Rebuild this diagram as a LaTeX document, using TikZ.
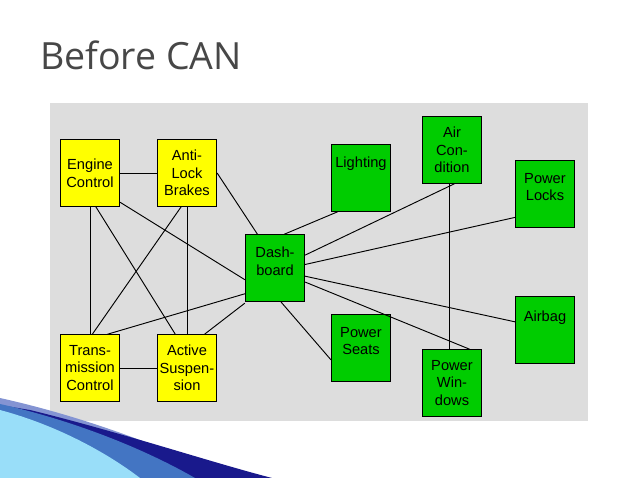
\documentclass[tikz,border=0pt]{standalone}
\usepackage{fontspec}
\setmainfont{Liberation Sans}
\newfontfamily\titlefont{Open Sans}
\usetikzlibrary{positioning}
\definecolor{boxyellow}{HTML}{FFFF00}
\definecolor{boxgreen}{HTML}{00CC00}
\definecolor{panel}{HTML}{DDDDDD}
\tikzset{
  ecu/.style={draw=black, thick, minimum width=1.78cm, minimum height=2cm,
    align=center, inner sep=0pt, font=\fontsize{12.5}{15}\selectfont},
  body/.style={ecu, fill=boxyellow},
  comfort/.style={ecu, fill=boxgreen},
  wire/.style={thick, black}
}
\begin{document}
\begin{tikzpicture}[x=0.03cm, y=-0.03cm]
\useasboundingbox (0,0) rectangle (638,478);
\fill[white] (0,0) rectangle (638,478);
% Titel
\node[anchor=west, text=black!72, font=\titlefont\fontsize{32}{36}\selectfont] (title) at (36,55) {Before CAN};
% Hintergrund
\fill[panel] (50,103) rectangle (588,421);
% Swoosh unten links
\fill[cyan!30!blue!50] (0,398) .. controls (90,418) and (170,450) .. (230,478) -- (0,478) -- cycle;
\fill[blue!50!black!90] (30,410) .. controls (120,432) and (210,462) .. (272,478) -- (0,478) -- (0,405) -- cycle;
\fill[cyan!40!blue!80] (0,404) .. controls (80,422) and (150,452) .. (195,478) -- (0,478) -- cycle;
\fill[white!60!cyan] (0,410) .. controls (60,426) and (110,455) .. (140,478) -- (0,478) -- cycle;
% Steuergeraete
\node[body] (engine) at (90,173) {Engine\\Control};
\node[body] (abs) at (187,173) {Anti-\\Lock\\Brakes};
\node[body] (trans) at (90,368) {Trans-\\mission\\Control};
\node[body] (susp) at (187,368) {Active\\Suspen-\\sion};
\node[comfort] (dash) at (275,268) {Dash-\\board\\[-3pt]};
\node[comfort] (light) at (361,178) {Lighting\\[12pt]};
\node[comfort] (air) at (452,150) {Air\\Con-\\dition};
\node[comfort] (locks) at (545,194) {Power\\Locks\\[-3pt]};
\node[comfort] (airbag) at (545,330) {Airbag\\[9pt]};
\node[comfort] (seats) at (361,348) {Power\\Seats\\[-3pt]};
\node[comfort] (windows) at (452,383) {Power\\Win-\\dows};
% Verbindungen
\draw[wire] (engine) -- (abs);
\draw[wire] (trans) -- (susp);
\draw[wire] (engine) -- (trans);
\draw[wire] (abs) -- (susp);
\draw[wire] ([xshift=5pt]engine.south) -- ([xshift=-10pt]susp.north);
\draw[wire] ([xshift=-5pt]abs.south) -- ([xshift=2pt]trans.north);
\draw[wire] ([yshift=-25pt]engine.east) -- ([yshift=-10pt]dash.west);
\draw[wire] ([xshift=15pt]trans.north) -- ([yshift=-22pt]dash.west);
\draw[wire] ([xshift=15pt]susp.north) -- ([yshift=-30pt]dash.west);
\draw[wire] ([yshift=0pt]abs.east) -- ([xshift=-15pt]dash.north);
\draw[wire] ([xshift=8pt]dash.north) -- ([xshift=-20pt]light.south);
\draw[wire] ([yshift=11pt]dash.east) -- ([xshift=2pt]air.south);
\draw[wire] ([yshift=3pt]dash.east) -- ([yshift=-20pt]locks.west);
\draw[wire] ([yshift=-7pt]dash.east) -- ([yshift=7pt]airbag.west);
\draw[wire] ([yshift=-12pt]dash.east) -- ([xshift=15pt]windows.north);
\draw[wire] ([xshift=5pt]dash.south) -- ([yshift=-10pt]seats.west);
\draw[wire] ([xshift=-2pt]air.south) -- ([xshift=-2pt]windows.north);
\end{tikzpicture}
\end{document}
